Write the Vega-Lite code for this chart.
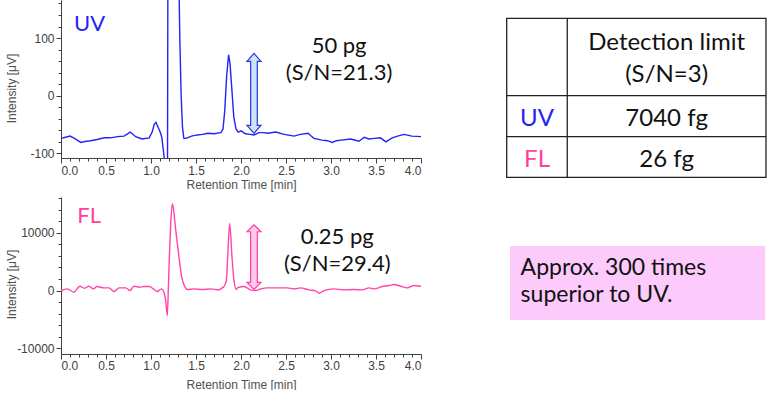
{
"$schema": "https://vega.github.io/schema/vega-lite/v6.json",
"padding": {"left": 5, "top": 0, "right": 0, "bottom": 0},
"spacing": 58,
"config": {
  "view": {"stroke": null},
  "axis": {"grid": false, "labelFont": "Liberation Sans", "labelFontSize": 12, "labelColor": "#404040", "titleFont": "Liberation Sans", "titleFontSize": 12, "titleFontWeight": "normal", "titleColor": "#505050", "domainColor": "#404040", "tickColor": "#404040", "labelOverlap": false, "tickCount": 1000}
},
"hconcat": [
  {"vconcat": [
    {"width": 360, "height": 158,
     "layer": [
      {"data": {"values": [
        {"t":0.0,"v":-74},{"t":0.05,"v":-72},{"t":0.1,"v":-70},{"t":0.15,"v":-74},{"t":0.22,"v":-81},{"t":0.28,"v":-79},{"t":0.33,"v":-78},{"t":0.4,"v":-76},{"t":0.48,"v":-73},{"t":0.55,"v":-73},{"t":0.63,"v":-71},{"t":0.7,"v":-70},{"t":0.77,"v":-63},{"t":0.83,"v":-71},{"t":0.9,"v":-75},{"t":0.98,"v":-73},{"t":1.015,"v":-62},{"t":1.035,"v":-50},{"t":1.055,"v":-46},{"t":1.08,"v":-55},{"t":1.1,"v":-62},{"t":1.12,"v":-72},{"t":1.145,"v":-105},{"t":1.165,"v":-180},{"t":1.18,"v":-400},{"t":1.19,"v":400},{"t":1.2,"v":800},{"t":1.25,"v":900},{"t":1.29,"v":600},{"t":1.305,"v":250},{"t":1.32,"v":100},{"t":1.335,"v":0},{"t":1.35,"v":-55},{"t":1.365,"v":-74},{"t":1.39,"v":-74},{"t":1.45,"v":-70},{"t":1.515,"v":-68},{"t":1.57,"v":-67},{"t":1.63,"v":-65},{"t":1.7,"v":-66},{"t":1.775,"v":-64},{"t":1.8,"v":-58},{"t":1.82,"v":-25},{"t":1.84,"v":33},{"t":1.862,"v":71},{"t":1.878,"v":56},{"t":1.896,"v":16},{"t":1.92,"v":-37},{"t":1.945,"v":-58},{"t":1.97,"v":-63},{"t":2.0,"v":-61},{"t":2.05,"v":-66},{"t":2.1,"v":-67},{"t":2.144,"v":-68},{"t":2.2,"v":-64},{"t":2.24,"v":-64},{"t":2.3,"v":-65},{"t":2.385,"v":-63},{"t":2.48,"v":-67},{"t":2.59,"v":-70},{"t":2.66,"v":-67},{"t":2.745,"v":-65},{"t":2.78,"v":-70},{"t":2.81,"v":-74},{"t":2.9,"v":-77},{"t":2.96,"v":-78},{"t":3.015,"v":-81},{"t":3.06,"v":-78},{"t":3.11,"v":-77},{"t":3.22,"v":-75},{"t":3.31,"v":-79},{"t":3.37,"v":-72},{"t":3.42,"v":-75},{"t":3.48,"v":-74},{"t":3.55,"v":-73},{"t":3.61,"v":-80},{"t":3.68,"v":-73},{"t":3.74,"v":-70},{"t":3.81,"v":-67},{"t":3.9,"v":-70},{"t":4.0,"v":-71}
       ]},
       "mark": {"type": "line", "clip": true, "color": "#2323f5", "strokeWidth": 1.4},
       "encoding": {
         "x": {"field": "t", "type": "quantitative", "scale": {"domain": [0, 4], "nice": false, "zero": false},
               "axis": {"title": "Retention Time [min]", "values": [0,0.1,0.2,0.3,0.4,0.5,0.6,0.7,0.8,0.9,1,1.1,1.2,1.3,1.4,1.5,1.6,1.7,1.8,1.9,2,2.1,2.2,2.3,2.4,2.5,2.6,2.7,2.8,2.9,3,3.1,3.2,3.3,3.4,3.5,3.6,3.7,3.8,3.9,4],
                        "tickCount": 1000,
                        "labelExpr": "abs(datum.value*2-round(datum.value*2))<0.001 ? format(datum.value, '.1f') : ''",
                        "tickSize": {"condition": {"test": "abs(datum.value*2-round(datum.value*2))<0.001", "value": 5}, "value": 3},
                        "labelOverlap": false, "labelPadding": 2, "titlePadding": 3}},
         "y": {"field": "v", "type": "quantitative", "scale": {"domain": [-108, 166], "nice": false, "zero": false},
               "axis": {"title": "Intensity [μV]", "values": [-100,-80,-60,-40,-20,0,20,40,60,80,100,120,140,160],
                        "tickCount": 1000,
                        "labelExpr": "datum.value % 100 === 0 ? datum.value + '' : ''",
                        "labelFontSize": {"condition": {"test": "datum.value % 100 === 0", "value": 12}, "value": 0},
                        "tickSize": {"condition": {"test": "datum.value % 100 === 0", "value": 5}, "value": 3},
                        "labelOverlap": false,
                        "titleX": -50, "titleY": 88, "titleAngle": -90, "titleAlign": "center", "titleBaseline": "middle"}}
       }},
      {"data": {"values": [{"t": 2.144, "v": 4.2}]},
       "mark": {"type": "point", "shape": "M0,-1L0.175,-0.8L0.083,-0.8L0.083,0.8L0.175,0.8L0,1L-0.175,0.8L-0.083,0.8L-0.083,-0.8L-0.175,-0.8Z", "size": 6400, "filled": true, "fill": "#cde2fb", "stroke": "#2438e6", "strokeWidth": 1.2, "opacity": 1},
       "encoding": {"x": {"field": "t", "type": "quantitative"}, "y": {"field": "v", "type": "quantitative"}}},
      {"data": {"values": [{"t": 0.145, "v": 113, "label": "UV"}]},
       "mark": {"type": "text", "align": "left", "baseline": "alphabetic", "font": "Lato", "fontSize": 22, "color": "#2424f0"},
       "encoding": {"x": {"field": "t", "type": "quantitative"}, "y": {"field": "v", "type": "quantitative"}, "text": {"field": "label"}}},
      {"data": {"values": [{"t": 3.09, "v": 73.9, "label": "50 pg"}, {"t": 3.09, "v": 27.3, "label": "(S/N=21.3)"}]},
       "mark": {"type": "text", "align": "center", "baseline": "alphabetic", "font": "Lato", "fontSize": 22, "color": "#111111"},
       "encoding": {"x": {"field": "t", "type": "quantitative"}, "y": {"field": "v", "type": "quantitative"}, "text": {"field": "label"}}}
     ]},
    {"width": 360, "height": 157,
     "layer": [
      {"data": {"values": [
        {"t":0.0,"v":0},{"t":0.07,"v":290},{"t":0.144,"v":-290},{"t":0.21,"v":750},{"t":0.26,"v":400},{"t":0.31,"v":750},{"t":0.36,"v":290},{"t":0.40,"v":690},{"t":0.478,"v":460},{"t":0.533,"v":460},{"t":0.59,"v":-170},{"t":0.644,"v":460},{"t":0.72,"v":460},{"t":0.767,"v":0},{"t":0.81,"v":750},{"t":0.867,"v":580},{"t":0.922,"v":690},{"t":0.978,"v":690},{"t":1.026,"v":290},{"t":1.07,"v":-170},{"t":1.115,"v":290},{"t":1.144,"v":-290},{"t":1.165,"v":-2000},{"t":1.181,"v":-4330},{"t":1.193,"v":580},{"t":1.204,"v":5770},{"t":1.219,"v":11560},{"t":1.237,"v":15000},{"t":1.252,"v":13860},{"t":1.267,"v":11560},{"t":1.29,"v":8500},{"t":1.311,"v":5770},{"t":1.341,"v":2310},{"t":1.378,"v":580},{"t":1.404,"v":170},{"t":1.478,"v":290},{"t":1.57,"v":170},{"t":1.663,"v":290},{"t":1.756,"v":115},{"t":1.79,"v":460},{"t":1.81,"v":700},{"t":1.837,"v":1730},{"t":1.852,"v":5770},{"t":1.874,"v":11600},{"t":1.9,"v":5770},{"t":1.922,"v":1730},{"t":1.948,"v":170},{"t":1.96,"v":460},{"t":2.033,"v":690},{"t":2.107,"v":115},{"t":2.163,"v":0},{"t":2.22,"v":290},{"t":2.29,"v":460},{"t":2.404,"v":460},{"t":2.515,"v":460},{"t":2.59,"v":290},{"t":2.663,"v":460},{"t":2.756,"v":115},{"t":2.83,"v":-60},{"t":2.867,"v":-460},{"t":2.922,"v":0},{"t":3.033,"v":290},{"t":3.144,"v":115},{"t":3.256,"v":170},{"t":3.348,"v":115},{"t":3.422,"v":460},{"t":3.478,"v":290},{"t":3.57,"v":690},{"t":3.644,"v":870},{"t":3.7,"v":1040},{"t":3.774,"v":750},{"t":3.848,"v":460},{"t":3.922,"v":870},{"t":4.0,"v":750}
       ]},
       "mark": {"type": "line", "clip": true, "color": "#ff45a8", "strokeWidth": 1.4, "interpolate": "monotone"},
       "encoding": {
         "x": {"field": "t", "type": "quantitative", "scale": {"domain": [0, 4], "nice": false, "zero": false},
               "axis": {"title": "Retention Time [min]", "values": [0,0.1,0.2,0.3,0.4,0.5,0.6,0.7,0.8,0.9,1,1.1,1.2,1.3,1.4,1.5,1.6,1.7,1.8,1.9,2,2.1,2.2,2.3,2.4,2.5,2.6,2.7,2.8,2.9,3,3.1,3.2,3.3,3.4,3.5,3.6,3.7,3.8,3.9,4],
                        "tickCount": 1000,
                        "labelExpr": "abs(datum.value*2-round(datum.value*2))<0.001 ? format(datum.value, '.1f') : ''",
                        "tickSize": {"condition": {"test": "abs(datum.value*2-round(datum.value*2))<0.001", "value": 5}, "value": 3},
                        "labelOverlap": false, "labelPadding": 1, "titlePadding": 8}},
         "y": {"field": "v", "type": "quantitative", "scale": {"domain": [-10970, 16170], "nice": false, "zero": false},
               "axis": {"title": "Intensity [μV]", "values": [-10000,-8000,-6000,-4000,-2000,0,2000,4000,6000,8000,10000,12000,14000,16000],
                        "tickCount": 1000,
                        "labelExpr": "datum.value % 10000 === 0 ? datum.value + '' : ''",
                        "labelFontSize": {"condition": {"test": "datum.value % 10000 === 0", "value": 12}, "value": 0},
                        "tickSize": {"condition": {"test": "datum.value % 10000 === 0", "value": 5}, "value": 3},
                        "labelOverlap": false,
                        "titleX": -50, "titleY": 87, "titleAngle": -90, "titleAlign": "center", "titleBaseline": "middle"}}
       }},
      {"data": {"values": [{"t": 2.144, "v": 5780}]},
       "mark": {"type": "point", "shape": "M0,-1L0.216,-0.784L0.104,-0.784L0.104,0.784L0.216,0.784L0,1L-0.216,0.784L-0.104,0.784L-0.104,-0.784L-0.216,-0.784Z", "size": 4186, "filled": true, "fill": "#ffc8ee", "stroke": "#ff3fa0", "strokeWidth": 1.2, "opacity": 1},
       "encoding": {"x": {"field": "t", "type": "quantitative"}, "y": {"field": "v", "type": "quantitative"}}},
      {"data": {"values": [{"t": 0.18, "v": 11730, "label": "FL"}]},
       "mark": {"type": "text", "align": "left", "baseline": "alphabetic", "font": "Lato", "fontSize": 22, "color": "#ff40a0"},
       "encoding": {"x": {"field": "t", "type": "quantitative"}, "y": {"field": "v", "type": "quantitative"}, "text": {"field": "label"}}},
      {"data": {"values": [{"t": 3.07, "v": 8090, "label": "0.25 pg"}, {"t": 3.07, "v": 3350, "label": "(S/N=29.4)"}]},
       "mark": {"type": "text", "align": "center", "baseline": "alphabetic", "font": "Lato", "fontSize": 22, "color": "#111111"},
       "encoding": {"x": {"field": "t", "type": "quantitative"}, "y": {"field": "v", "type": "quantitative"}, "text": {"field": "label"}}}
     ]}
  ], "spacing": 39, "bounds": "flush"},
  {"width": 288, "height": 354,
   "layer": [
    {"data": {"values": [{"x1": 10.4, "x2": 99.0, "y1": 69.49, "y2": 90.40}]},
     "mark": {"type": "rect", "fill": "#fccbfc"},
     "encoding": {"x": {"field": "x1", "type": "quantitative", "scale": {"domain": [0, 100], "nice": false}, "axis": null}, "x2": {"field": "x2"},
                  "y": {"field": "y1", "type": "quantitative", "scale": {"domain": [0, 100], "nice": false, "reverse": true}, "axis": null}, "y2": {"field": "y2"}}},
    {"data": {"values": [{"x1": 9.27, "x2": 99.3, "y1": 5.17, "y2": 50.08}]},
     "mark": {"type": "rect", "fill": null, "fillOpacity": 0, "stroke": "#222222", "strokeWidth": 1.3},
     "encoding": {"x": {"field": "x1", "type": "quantitative"}, "x2": {"field": "x2"}, "y": {"field": "y1", "type": "quantitative"}, "y2": {"field": "y2"}}},
    {"data": {"values": [{"x1": 30.3, "x2": 30.3, "y1": 5.17, "y2": 50.08}, {"x1": 9.27, "x2": 99.3, "y1": 27.03, "y2": 27.03}, {"x1": 9.27, "x2": 99.3, "y1": 38.62, "y2": 38.62}]},
     "mark": {"type": "rule", "stroke": "#222222", "strokeWidth": 1.3},
     "encoding": {"x": {"field": "x1", "type": "quantitative"}, "x2": {"field": "x2"}, "y": {"field": "y1", "type": "quantitative"}, "y2": {"field": "y2"}}},
    {"data": {"values": [{"x1": 64.8, "y1": 14.12, "label": "Detection limit"}, {"x1": 64.8, "y1": 23.16, "label": "(S/N=3)"}, {"x1": 64.8, "y1": 35.59, "label": "7040 fg"}, {"x1": 64.8, "y1": 47.09, "label": "26 fg"}]},
     "mark": {"type": "text", "align": "center", "baseline": "alphabetic", "font": "Lato", "fontSize": 24, "color": "#111111"},
     "encoding": {"x": {"field": "x1", "type": "quantitative"}, "y": {"field": "y1", "type": "quantitative"}, "text": {"field": "label"}}},
    {"data": {"values": [{"x1": 19.8, "y1": 35.59, "label": "UV"}]},
     "mark": {"type": "text", "align": "center", "baseline": "alphabetic", "font": "Lato", "fontSize": 24, "color": "#2424f0"},
     "encoding": {"x": {"field": "x1", "type": "quantitative"}, "y": {"field": "y1", "type": "quantitative"}, "text": {"field": "label"}}},
    {"data": {"values": [{"x1": 19.8, "y1": 47.09, "label": "FL"}]},
     "mark": {"type": "text", "align": "center", "baseline": "alphabetic", "font": "Lato", "fontSize": 24, "color": "#ff40a0"},
     "encoding": {"x": {"field": "x1", "type": "quantitative"}, "y": {"field": "y1", "type": "quantitative"}, "text": {"field": "label"}}},
    {"data": {"values": [{"x1": 14.1, "y1": 77.68, "label": "Approx. 300 times"}, {"x1": 14.1, "y1": 85.22, "label": "superior to UV."}]},
     "mark": {"type": "text", "align": "left", "baseline": "alphabetic", "font": "Lato", "fontSize": 23, "color": "#111111"},
     "encoding": {"x": {"field": "x1", "type": "quantitative"}, "y": {"field": "y1", "type": "quantitative"}, "text": {"field": "label"}}}
   ]}
]
}
